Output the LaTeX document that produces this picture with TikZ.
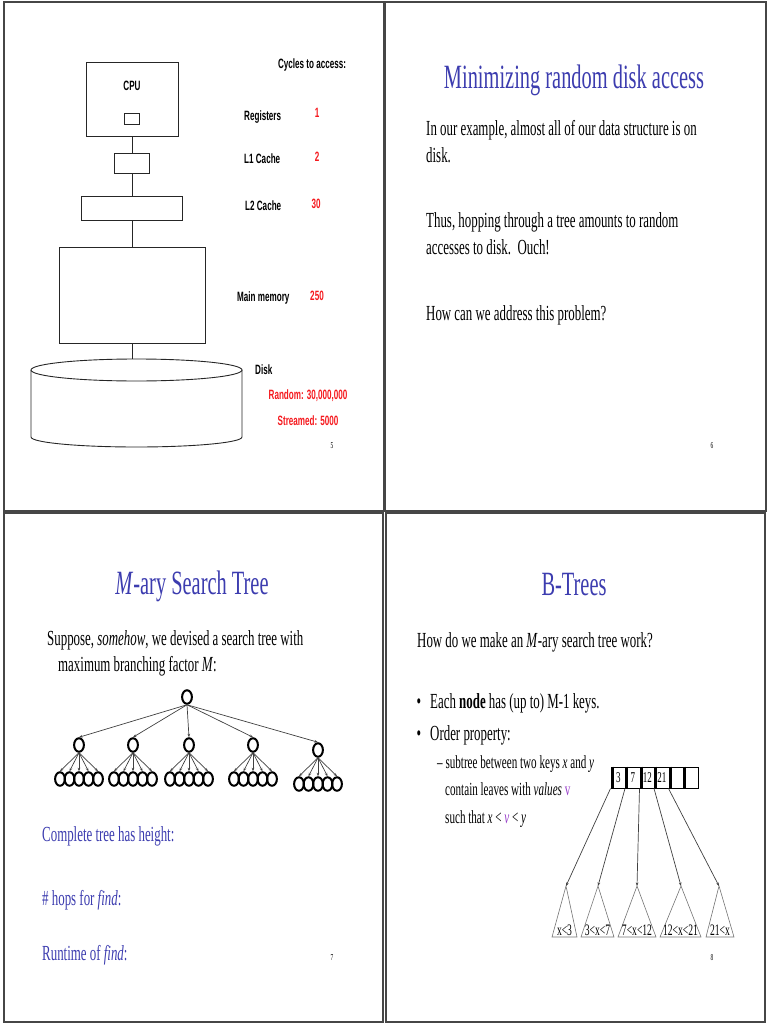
\documentclass[tikz,border=0pt]{standalone}
\usepackage{fontspec}
\setmainfont{Liberation Serif}[FakeStretch=0.6]
\newfontfamily\slidesans{Liberation Sans}[FakeStretch=0.6]
\usetikzlibrary{shapes.geometric,arrows.meta}
\definecolor{slideblue}{RGB}{60,60,175}
\definecolor{cyclered}{RGB}{245,25,30}
\definecolor{valpurple}{RGB}{150,60,200}
\definecolor{framegray}{RGB}{70,70,70}

\begin{document}
\begin{tikzpicture}[x=1pt, y=-1pt,
  slideframe/.style={draw=framegray, line width=1.6pt},
  membox/.style={draw=black!85, line width=0.9pt, inner sep=0pt},
  bus/.style={draw=black!85, line width=0.9pt},
  hwlabel/.style={font=\slidesans\bfseries\fontsize{13.5}{16}\selectfont, anchor=base west, inner sep=0pt},
  cyclenum/.style={font=\slidesans\bfseries\fontsize{13.5}{16}\selectfont, text=cyclered, anchor=base, inner sep=0pt},
  slidetitle/.style={font=\fontsize{34}{40}\selectfont, text=slideblue, anchor=base, inner sep=0pt},
  bodytext/.style={font=\fontsize{21.5}{26}\selectfont, anchor=base west, inner sep=0pt},
  subtext/.style={font=\fontsize{18.5}{22}\selectfont, anchor=base west, inner sep=0pt},
  pagenum/.style={font=\fontsize{9}{10}\selectfont, anchor=base, inner sep=0pt},
  treenode/.style={ellipse, draw=black, line width=2pt, minimum width=9.8pt, minimum height=13.5pt, inner sep=0pt},
  treeedge/.style={draw=black!75, line width=0.7pt, -{Stealth[length=3.5pt, width=2.6pt]}},
  keycell/.style={draw=black, line width=1pt, minimum width=14.5pt, minimum height=21pt, inner sep=0pt, font=\fontsize{15}{16}\selectfont},
  subtri/.style={draw=black!55, line width=0.6pt},
  rangelabel/.style={font=\fontsize{16}{18}\selectfont, anchor=base, inner sep=0pt},
]
\useasboundingbox (0,0) rectangle (768,1024);

%%%frames
\draw[slideframe] (4,2) rectangle (384,511);
\draw[slideframe] (385,2) rectangle (766,511);
\draw[slideframe] (4,513) rectangle (383,1022);
\draw[slideframe] (386,513) rectangle (765,1022);

%%%slide 5: memory hierarchy
\node[membox, minimum width=92pt, minimum height=74pt] (cpu) at (132,99) {};
\node[hwlabel, anchor=base] (cpulabel) at (132,91) {CPU};
\node[membox, minimum width=15pt, minimum height=11pt] (regs) at (132,118.5) {};
\node[membox, minimum width=35pt, minimum height=20pt] (lone) at (132,163) {};
\node[membox, minimum width=101pt, minimum height=24pt] (ltwo) at (132,208) {};
\node[membox, minimum width=146pt, minimum height=96pt] (mainmem) at (132,295) {};
\coordinate (disktop) at (132,359.2);
\draw[bus] (cpu.south) -- (lone.north);
\draw[bus] (lone.south) -- (ltwo.north);
\draw[bus] (ltwo.south) -- (mainmem.north);
\draw[bus] (mainmem.south) -- (disktop);
%disk
\draw[bus] (136.5,370) ellipse [x radius=105.5, y radius=11];
\draw[bus] (31,370) -- (31,437) arc[start angle=180, end angle=0, x radius=105.5, y radius=10] -- (242,370);

\node[hwlabel, anchor=base] (cycles) at (312,69) {Cycles to access:};
\node[hwlabel] (regname) at (244,121) {Registers};
\node[cyclenum] (regcyc) at (317,117.5) {1};
\node[hwlabel] (lonename) at (244,164) {L1 Cache};
\node[cyclenum] (lonecyc) at (317,162) {2};
\node[hwlabel] (ltwoname) at (245,211) {L2 Cache};
\node[cyclenum] (ltwocyc) at (316,209) {30};
\node[hwlabel] (memname) at (237,301) {Main memory};
\node[cyclenum] (memcyc) at (317,300) {250};
\node[hwlabel] (diskname) at (255,374) {Disk};
\node[cyclenum] (diskrand) at (308,399) {Random: 30,000,000};
\node[cyclenum] (diskstream) at (308,425) {Streamed: 5000};
\node[pagenum] (pfive) at (332,448) {5};

%%%slide 6
\node[slidetitle] (titlesix) at (574,89) {Minimizing random disk access};
\node[bodytext] (sixa) at (426,135.5) {In our example, almost all of our data structure is on};
\node[bodytext] (sixb) at (426,162.5) {disk.};
\node[bodytext] (sixc) at (426,227.5) {Thus, hopping through a tree amounts to random};
\node[bodytext] (sixd) at (426,254.5) {accesses to disk.\ \ Ouch!};
\node[bodytext] (sixe) at (426,320) {How can we address this problem?};
\node[pagenum] (psix) at (712,448) {6};

%%%slide 7: M-ary tree
\node[slidetitle] (titleseven) at (192,594) {\textit{M}-ary Search Tree};
\node[bodytext] (sevena) at (47,645) {Suppose, \textit{somehow}, we devised a search tree with};
\node[bodytext] (sevenb) at (58,671) {maximum branching factor \textit{M}:};
\node[treenode] (root) at (187,697) {};
\foreach \i/\cx/\cy in {1/79/745, 2/133/745, 3/189/745, 4/253/745, 5/318/750} {
  \node[treenode] (kid\i) at (\cx,\cy) {};
  \draw[treeedge] (root.south) -- (kid\i.north);
  \foreach \j/\dx in {1/-19, 2/-9.5, 3/0, 4/9.5, 5/19} {
    \node[treenode] (leaf\i\j) at (\cx+\dx,\cy+34) {};
    \draw[treeedge] (kid\i.south) -- (leaf\i\j.north);
  }
}
\node[bodytext, text=slideblue] (sevenc) at (42,841) {Complete tree has height:};
\node[bodytext, text=slideblue] (sevend) at (42,905) {\# hops for \textit{find}:};
\node[bodytext, text=slideblue] (sevene) at (42,960) {Runtime of \textit{find}:};
\node[pagenum] (pseven) at (332,960) {7};

%%%slide 8: B-trees
\node[slidetitle] (titleeight) at (574,595) {B-Trees};
\node[bodytext] (eighta) at (417,647) {How do we make an \textit{M}-ary search tree work?};
\node[bodytext] (dotone) at (416.5,708) {\textbullet};
\node[bodytext] (eightb) at (430,708) {Each \textbf{node} has (up to) M-1 keys.};
\node[bodytext] (dottwo) at (416.5,740) {\textbullet};
\node[bodytext] (eightc) at (430,740) {Order property:};
\node[subtext] (eightd) at (437,768) {– subtree between two keys \textit{x} and \textit{y}};
\node[subtext] (eighte) at (445,795) {contain leaves with \textit{values} \textcolor{valpurple}{v}};
\node[subtext] (eightf) at (445,823) {such that \textit{x} < \textcolor{valpurple}{\textit{v}} < \textit{y}};
%key node
\foreach \i/\key in {1/3, 2/7, 3/12, 4/21, 5/, 6/} {
  \node[keycell] (cell\i) at (611+14.5*\i-7.25,777.5) {\key};
  \draw[line width=3pt] ([xshift=1.5pt]cell\i.north west) -- ([xshift=1.5pt]cell\i.south west);
}
%subtrees
\foreach \i/\ax/\bl/\br/\lab in {1/566/552/577/{x<3}, 2/598/581/614/{3<x<7}, 3/637/618/656/{7<x<12}, 4/681/660/701/{12<x<21}, 5/719/706/734/{21<x}} {
  \coordinate (apex\i) at (\ax,886);
  \draw[subtri] (apex\i) -- (\bl,937) -- (\br,937) -- cycle;
  \node[rangelabel] (range\i) at ({(\bl+\br)/2},935) {\lab};
  \draw[treeedge] (cell\i.south west) -- (apex\i);
}
\node[pagenum] (peight) at (712,960) {8};

\end{tikzpicture}
\end{document}
